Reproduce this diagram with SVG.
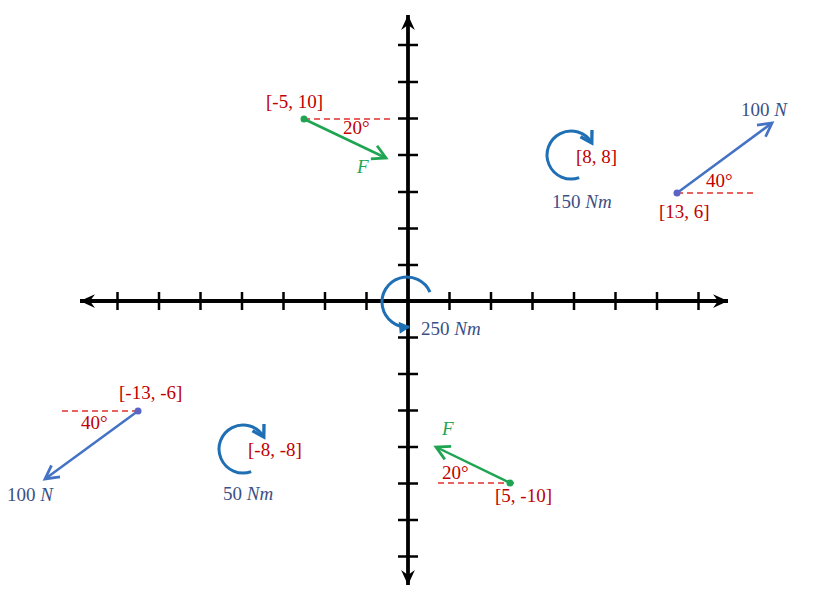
<svg xmlns="http://www.w3.org/2000/svg" width="835" height="600" viewBox="0 0 835 600">
<style>
.axis{stroke:#000;stroke-width:3.8;fill:none}
.tick{stroke:#000;stroke-width:2.5}
.dash{stroke:#E0302C;stroke-width:1.6;stroke-dasharray:6 4;fill:none}
.fg{stroke:#1FA552;stroke-width:2.5;fill:none}
.fb{stroke:#4472C4;stroke-width:2.5;fill:none}
.mom{stroke:#1F6FB5;stroke-width:3;fill:none}
text{font-family:"Liberation Serif","Times New Roman",serif;font-size:19px}
.red{fill:#C00000}
.lb{fill:#3B5085}
.gt{fill:#1FA552;font-style:italic}
.it{font-style:italic}
</style>
<defs>
<marker id="ak" markerUnits="userSpaceOnUse" markerWidth="20" markerHeight="20" viewBox="-14 -8 16 16" refX="0" refY="0" orient="auto-start-reverse">
<path d="M-12,-5.5 L0,0 L-12,5.5 L-8,0 Z" fill="#000"/>
</marker>
<marker id="ag" markerUnits="userSpaceOnUse" markerWidth="20" markerHeight="20" viewBox="-14 -9 16 18" refX="0" refY="0" orient="auto">
<path d="M-12,-6.5 L0,0 L-12,6.5" fill="none" stroke="#1FA552" stroke-width="2.5"/>
</marker>
<marker id="ab" markerUnits="userSpaceOnUse" markerWidth="20" markerHeight="20" viewBox="-14 -9 16 18" refX="0" refY="0" orient="auto">
<path d="M-12,-6.5 L0,0 L-12,6.5" fill="none" stroke="#4472C4" stroke-width="2.5"/>
</marker>
<marker id="am" markerUnits="userSpaceOnUse" markerWidth="20" markerHeight="20" viewBox="-14 -9 16 18" refX="0" refY="0" orient="auto">
<path d="M-10,-6 L0,0 L-10,6" fill="none" stroke="#1F6FB5" stroke-width="3"/>
</marker>
<marker id="amf" markerUnits="userSpaceOnUse" markerWidth="20" markerHeight="20" viewBox="-14 -9 16 18" refX="0" refY="0" orient="auto">
<path d="M-9,-5.5 L1,0 L-9,5.5 Z" fill="#1F6FB5"/>
</marker>
</defs>

<g id="axes">
<line class="axis" x1="80" y1="301" x2="728" y2="301" marker-start="url(#ak)" marker-end="url(#ak)"/>
<line class="axis" x1="408" y1="585" x2="408" y2="15" marker-start="url(#ak)" marker-end="url(#ak)"/>
<g class="tick">
<line x1="117.5" y1="292" x2="117.5" y2="310"/>
<line x1="159" y1="292" x2="159" y2="310"/>
<line x1="200.5" y1="292" x2="200.5" y2="310"/>
<line x1="242" y1="292" x2="242" y2="310"/>
<line x1="283.5" y1="292" x2="283.5" y2="310"/>
<line x1="325" y1="292" x2="325" y2="310"/>
<line x1="366.5" y1="292" x2="366.5" y2="310"/>
<line x1="449.5" y1="292" x2="449.5" y2="310"/>
<line x1="491" y1="292" x2="491" y2="310"/>
<line x1="532.5" y1="292" x2="532.5" y2="310"/>
<line x1="574" y1="292" x2="574" y2="310"/>
<line x1="615.5" y1="292" x2="615.5" y2="310"/>
<line x1="657" y1="292" x2="657" y2="310"/>
<line x1="698.5" y1="292" x2="698.5" y2="310"/>
<line x1="398" y1="45" x2="418" y2="45"/>
<line x1="398" y1="82" x2="418" y2="82"/>
<line x1="398" y1="118.5" x2="418" y2="118.5"/>
<line x1="398" y1="155" x2="418" y2="155"/>
<line x1="398" y1="192" x2="418" y2="192"/>
<line x1="398" y1="228.5" x2="418" y2="228.5"/>
<line x1="398" y1="265" x2="418" y2="265"/>
<line x1="398" y1="337.5" x2="418" y2="337.5"/>
<line x1="398" y1="374" x2="418" y2="374"/>
<line x1="398" y1="410.5" x2="418" y2="410.5"/>
<line x1="398" y1="447" x2="418" y2="447"/>
<line x1="398" y1="483.5" x2="418" y2="483.5"/>
<line x1="398" y1="520" x2="418" y2="520"/>
<line x1="398" y1="556.5" x2="418" y2="556.5"/>
</g>
</g>

<g id="connectors">
<line class="dash" x1="304" y1="119" x2="390" y2="119"/>
<line class="dash" x1="677" y1="193" x2="754" y2="193"/>
<line class="dash" x1="62" y1="411" x2="138" y2="411"/>
<line class="dash" x1="438" y1="483" x2="515" y2="483"/>
<line class="fg" x1="304" y1="119" x2="386" y2="158" marker-end="url(#ag)"/>
<line class="fg" x1="510" y1="483" x2="436" y2="447" marker-end="url(#ag)"/>
<line class="fb" x1="677" y1="193" x2="772" y2="123" marker-end="url(#ab)"/>
<line class="fb" x1="138" y1="411" x2="45" y2="479" marker-end="url(#ab)"/>
<path class="mom" d="M579.2,177.6 A24,24 0 1 1 591.8,143" marker-end="url(#am)"/>
<path class="mom" d="M251.2,471.6 A24,24 0 1 1 263.8,437" marker-end="url(#am)"/>
<path class="mom" d="M430,292.2 A25,25 0 1 0 409.2,326.9" marker-end="url(#amf)"/>
</g>

<g id="force-a">
<circle cx="304" cy="119" r="3.5" fill="#1FA552"/>
<text class="red" x="266" y="108">[-5, 10]</text>
<text class="red" x="343" y="134">20°</text>
<text class="gt" x="357" y="173">F</text>
</g>
<g id="moment-150">
<text class="red" x="576" y="163">[8, 8]</text>
<text class="lb" x="552" y="208">150 <tspan class="it">Nm</tspan></text>
</g>
<g id="force-b">
<circle cx="677" cy="193" r="3.5" fill="#5B63C7"/>
<text class="lb" x="741" y="116">100 <tspan class="it">N</tspan></text>
<text class="red" x="706" y="187">40°</text>
<text class="red" x="659" y="218">[13, 6]</text>
</g>
<g id="moment-250">
<text class="lb" x="421" y="335">250 <tspan class="it">Nm</tspan></text>
</g>
<g id="force-c">
<circle cx="138" cy="411" r="3.5" fill="#5B63C7"/>
<text class="red" x="119" y="399">[-13, -6]</text>
<text class="red" x="81" y="429">40°</text>
<text class="lb" x="7" y="501">100 <tspan class="it">N</tspan></text>
</g>
<g id="moment-50">
<text class="red" x="248" y="456">[-8, -8]</text>
<text class="lb" x="223" y="500">50 <tspan class="it">Nm</tspan></text>
</g>
<g id="force-d">
<circle cx="510" cy="483" r="3.5" fill="#1FA552"/>
<text class="gt" x="442" y="435">F</text>
<text class="red" x="442" y="479">20°</text>
<text class="red" x="495" y="502">[5, -10]</text>
</g>
</svg>
